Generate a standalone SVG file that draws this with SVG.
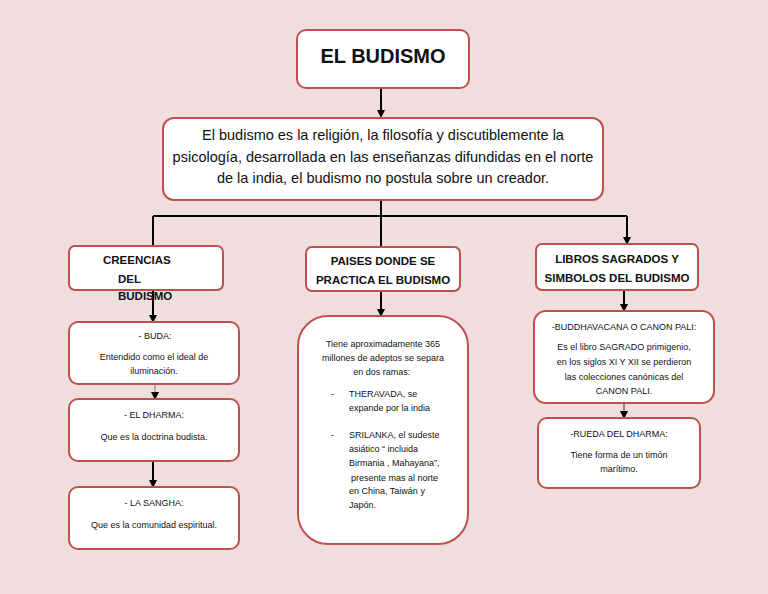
<svg xmlns="http://www.w3.org/2000/svg" width="768" height="594" viewBox="0 0 768 594">
<style>
.b{fill:#fff;stroke:#c0504d;stroke-width:2}
text{font-family:"Liberation Sans",Arial,sans-serif;fill:#111}
.h{font-weight:bold;font-size:11.5px}
.s{font-size:9px}
.c{text-anchor:middle}
.l{stroke:#000;stroke-width:2;fill:none}
</style>
<defs><marker id="a" markerWidth="8" markerHeight="8" refX="6" refY="4" orient="auto" markerUnits="userSpaceOnUse"><path d="M0,0L8,4L0,8z" fill="#000"/></marker></defs>
<rect width="768" height="594" fill="#f0dddd"/>
<g id="connectors">
<path class="l" d="M381,88V116" marker-end="url(#a)"/>
<path class="l" d="M381,200V216M153,216H627M153,216V244M381,216V244M627,216V241" />
<path class="l" d="M153,240V246M381,240V246M627,237V243" marker-end="url(#a)"/>
<path class="l" d="M153,290V321" marker-end="url(#a)"/>
<path stroke="#777" stroke-width="1" d="M155,384V398" marker-end="url(#a)"/>
<path class="l" d="M153,461V486" marker-end="url(#a)"/>
<path class="l" d="M381,291V315" marker-end="url(#a)"/>
<path class="l" d="M624,290V310" marker-end="url(#a)"/>
<path stroke="#333" stroke-width="1" d="M624,403V417" marker-end="url(#a)"/>
</g>
<g id="title"><rect class="b" x="297" y="30" width="172" height="58" rx="9"/><text x="383" y="63" class="c" style="font-size:20px;font-weight:bold">EL BUDISMO</text></g>
<g id="desc"><rect class="b" x="163" y="118" width="440" height="82" rx="11"/>
<text class="c" style="font-size:14.5px"><tspan x="383" y="140">El budismo es la religión, la filosofía y discutiblemente la</tspan><tspan x="383" y="162">psicología, desarrollada en las enseñanzas difundidas en el norte</tspan><tspan x="383" y="183">de la india, el budismo no postula sobre un creador.</tspan></text></g>
<g id="creencias"><rect class="b" x="69" y="246" width="154" height="44" rx="6"/>
<text class="h"><tspan x="103" y="264">CREENCIAS</tspan><tspan x="118" y="283">DEL</tspan><tspan x="118" y="300">BUDISMO</tspan></text></g>
<g id="buda"><rect class="b" x="69" y="322" width="170" height="62" rx="9"/>
<text class="s c"><tspan x="155" y="339">- BUDA:</tspan><tspan x="154" y="360">Entendido como el ideal de</tspan><tspan x="154" y="374">iluminación.</tspan></text></g>
<g id="dharma"><rect class="b" x="69" y="399" width="170" height="62" rx="9"/>
<text class="s c"><tspan x="154" y="418">- EL DHARMA:</tspan><tspan x="154" y="440">Que es la doctrina budista.</tspan></text></g>
<g id="sangha"><rect class="b" x="69" y="487" width="170" height="62" rx="9"/>
<text class="s c"><tspan x="154" y="506">- LA SANGHA:</tspan><tspan x="154" y="528">Que es la comunidad espiritual.</tspan></text></g>
<g id="paises"><rect class="b" x="306" y="247" width="154" height="44" rx="6"/>
<text class="h c"><tspan x="383" y="265">PAISES DONDE SE</tspan><tspan x="383" y="284">PRACTICA EL BUDISMO</tspan></text></g>
<g id="ramas"><rect class="b" x="298" y="316" width="170" height="228" rx="30"/>
<text class="s"><tspan class="c" x="383" y="347" text-anchor="middle">Tiene aproximadamente 365</tspan><tspan x="383" y="361" text-anchor="middle">millones de adeptos se separa</tspan><tspan x="383" y="375" text-anchor="middle">en dos ramas:</tspan>
<tspan x="331" y="397">-</tspan><tspan x="349" y="397">THERAVADA, se</tspan><tspan x="349" y="411">expande por la india</tspan>
<tspan x="331" y="438">-</tspan><tspan x="349" y="438">SRILANKA, el sudeste</tspan><tspan x="349" y="452">asiático “ incluida</tspan><tspan x="349" y="466">Birmania , Mahayana”,</tspan><tspan x="351" y="481">presente mas al norte</tspan><tspan x="349" y="494">en China, Taiwán y</tspan><tspan x="349" y="508">Japón.</tspan></text></g>
<g id="libros"><rect class="b" x="536" y="244" width="162" height="46" rx="6"/>
<text class="h c"><tspan x="617" y="263">LIBROS SAGRADOS Y</tspan><tspan x="617" y="282">SIMBOLOS DEL BUDISMO</tspan></text></g>
<g id="canon"><rect class="b" x="534" y="311" width="180" height="92" rx="12"/>
<text class="s c"><tspan x="624" y="330">-BUDDHAVACANA O CANON PALI:</tspan><tspan x="624" y="350">Es el libro SAGRADO primigenio,</tspan><tspan x="624" y="365">en los siglos XI Y XII se perdieron</tspan><tspan x="624" y="380">las colecciones canónicas del</tspan><tspan x="624" y="394">CANON PALI.</tspan></text></g>
<g id="rueda"><rect class="b" x="538" y="418" width="162" height="70" rx="9"/>
<text class="s c"><tspan x="619" y="437">-RUEDA DEL DHARMA:</tspan><tspan x="619" y="458">Tiene forma de un timón</tspan><tspan x="619" y="472">marítimo.</tspan></text></g>
</svg>
